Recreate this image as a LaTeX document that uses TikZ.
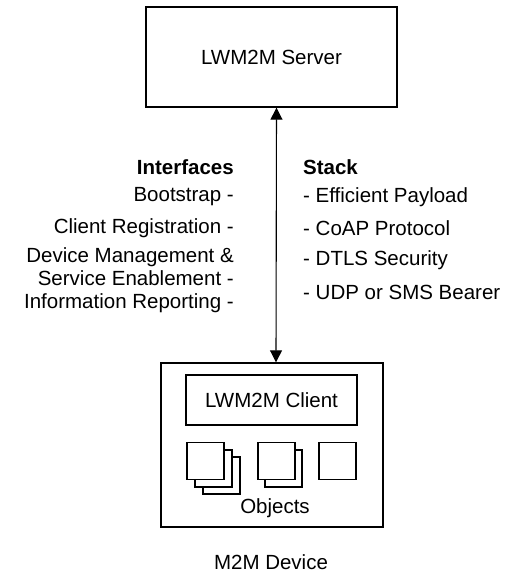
\documentclass[tikz,border=0pt]{standalone}
\usepackage{fontspec}
\setmainfont{Liberation Sans}
\usetikzlibrary{arrows.meta}
\tikzset{
  box/.style={draw, line width=1.4pt, inner sep=0pt},
  obj/.style={draw, fill=white, line width=1.1pt, minimum size=37pt, inner sep=0pt},
  lbl/.style={font=\fontsize{20.5}{24}\selectfont, inner sep=0pt},
}
\begin{document}
\begin{tikzpicture}[x=1pt, y=-1pt]
  \useasboundingbox (0,0) rectangle (525,579);
  \node[box, minimum width=251pt, minimum height=100pt] (server) at (271.5,57) {};
  \node[lbl] (servertext) at (server.center) {LWM2M Server};
  \node[box, minimum width=222pt, minimum height=164pt] (device) at (272,445) {};
  \node[box, minimum width=171pt, minimum height=50pt] (client) at (271.5,400) {};
  \node[lbl] (clienttext) at (client.center) {LWM2M Client};
  % objects
  \node[obj] (o13) at (221.5,475.5) {};
  \node[obj] (o12) at (213.5,468.5) {};
  \node[obj] (o11) at (205.5,461) {};
  \node[obj] (o22) at (283.5,468.5) {};
  \node[obj] (o21) at (276.5,461) {};
  \node[obj] (o31) at (337.5,461) {};
  \node[lbl] (objects) at (275,508) {Objects};
  \node[lbl] (devicetext) at (271,562) {M2M Device};
  \draw[line width=1.1pt, {Triangle[width=12pt,length=12pt]}-{Triangle[width=12pt,length=12pt]}]
    ([xshift=5pt]server.south) -- ([xshift=4pt]device.north);
  % interfaces
  \node[lbl, anchor=east, font=\fontsize{20.5}{24}\selectfont\bfseries] (ifhead) at (234,167) {Interfaces};
  \node[lbl, anchor=east] (if1) at (234,197) {Bootstrap -};
  \node[lbl, anchor=east] (if2) at (234,228) {Client Registration -};
  \node[lbl, anchor=east, align=right, font=\fontsize{20.5}{23}\selectfont] (if3) at (234,266.5) {Device Management \&\\Service Enablement -};
  \node[lbl, anchor=east] (if4) at (234,303) {Information Reporting -};
  % stack
  \node[lbl, anchor=west, font=\fontsize{20.5}{24}\selectfont\bfseries] (sthead) at (303,167) {Stack};
  \node[lbl, anchor=west] (st1) at (303,197) {- Efficient Payload};
  \node[lbl, anchor=west] (st2) at (303,228) {- CoAP Protocol};
  \node[lbl, anchor=west] (st3) at (303,260) {- DTLS Security};
  \node[lbl, anchor=west] (st4) at (303,292) {- UDP or SMS Bearer};
\end{tikzpicture}
\end{document}
